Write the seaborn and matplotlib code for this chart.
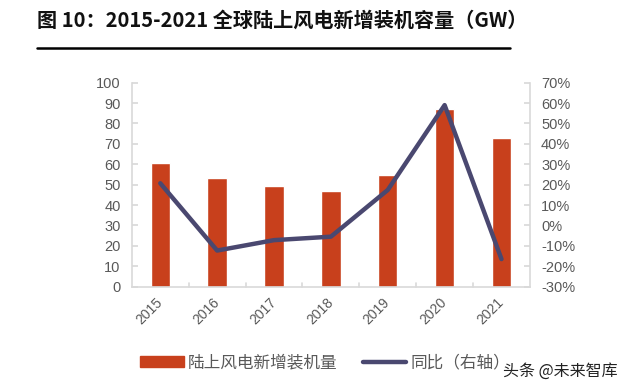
import matplotlib
matplotlib.use("Agg")
import matplotlib.pyplot as plt
import seaborn as sns
import pandas as pd
import numpy as np
from matplotlib.lines import Line2D
from matplotlib.patches import Patch
from matplotlib.ticker import FuncFormatter

years = ["2015", "2016", "2017", "2018", "2019", "2020", "2021"]
installed = [60.8, 53.3, 49.3, 46.8, 54.8, 87.3, 72.8]
yoy = [20.7, -12.3, -7.2, -5.5, 17.4, 59.0, -16.5]

title = "图 10：2015-2021 全球陆上风电新增装机容量（GW）"
bar_label = "陆上风电新增装机量"
line_label = "同比（右轴）"
watermark = "头条 @未来智库"

sns.set_theme(style="white")
plt.rcParams["font.family"] = ["Noto Sans CJK SC", "DejaVu Sans"]

bar_color = "#C8401C"
line_color = "#4A4870"
grey = "#595959"
spine_c = "#D9D9D9"

df = pd.DataFrame({"year": years, "installed": installed, "yoy": yoy})

fig = plt.figure(figsize=(6.4, 3.9), dpi=100)
ax = fig.add_axes([0.206, 0.265, 0.622, 0.523])
sns.barplot(data=df, x="year", y="installed", color=bar_color, width=0.34,
            saturation=1, ax=ax)
ax.set_ylim(0, 100)
ax.set_yticks(range(0, 101, 10))
ax.set_xlim(-0.5, len(years) - 0.5)
ax.set_xlabel("")
ax.set_ylabel("")

ax2 = ax.twinx()
sns.lineplot(x=np.arange(len(years)), y=yoy, color=line_color, lw=3.2, ax=ax2)
ax2.set_ylim(-30, 70)
ax2.set_yticks(range(-30, 71, 10))
ax2.yaxis.set_major_formatter(FuncFormatter(lambda v, p: f"{v:.0f}%"))

for a in (ax, ax2):
    for s in a.spines.values():
        s.set_visible(False)
ax.spines["left"].set_visible(True)
ax.spines["bottom"].set_visible(True)
ax2.spines["right"].set_visible(True)
for s in (ax.spines["left"], ax.spines["bottom"], ax2.spines["right"]):
    s.set_color(spine_c)
    s.set_linewidth(1.2)

ax.tick_params(axis="y", direction="in", length=4, color=spine_c, left=True,
               labelsize=10.5, labelcolor=grey, pad=8)
ax2.tick_params(axis="y", direction="in", length=4, color=spine_c, right=True,
                labelsize=10.5, labelcolor=grey, pad=8)
ax.set_xticks(np.arange(len(years)))
ax.set_xticklabels(years, rotation=45, fontsize=10, color=grey,
                   ha="right", va="center", rotation_mode="anchor")
ax.tick_params(axis="x", length=0, pad=10)
for i in range(1, len(years)):
    ax.plot([i - 0.5, i - 0.5], [0, 1.8], color=spine_c, lw=1.2, clip_on=False)
for lbl in ax.get_xticklabels():
    lbl.set_family(["Liberation Sans", "DejaVu Sans"])
for lbl in ax.get_yticklabels() + ax2.get_yticklabels():
    lbl.set_family(["Liberation Sans", "DejaVu Sans"])

fig.text(0.058, 0.948, title, fontsize=14.5, fontweight="bold", color="#111111",
         va="center", ha="left")
fig.add_artist(Line2D([0.058, 0.797], [0.876, 0.876], color="black", lw=1.8))

handles = [Patch(color=bar_color), Line2D([0], [0], color=line_color, lw=3.2)]
fig.legend(handles, [bar_label, line_label], loc="center", ncol=2,
           bbox_to_anchor=(0.508, 0.069), frameon=False, fontsize=12,
           handlelength=2.6, handleheight=0.6, columnspacing=1.5,
           handletextpad=0.25, labelcolor=grey)

fig.text(0.786, 0.049, watermark, fontsize=11.5, color="#222222",
         ha="left", va="center")

fig.savefig("out.png", dpi=100)
